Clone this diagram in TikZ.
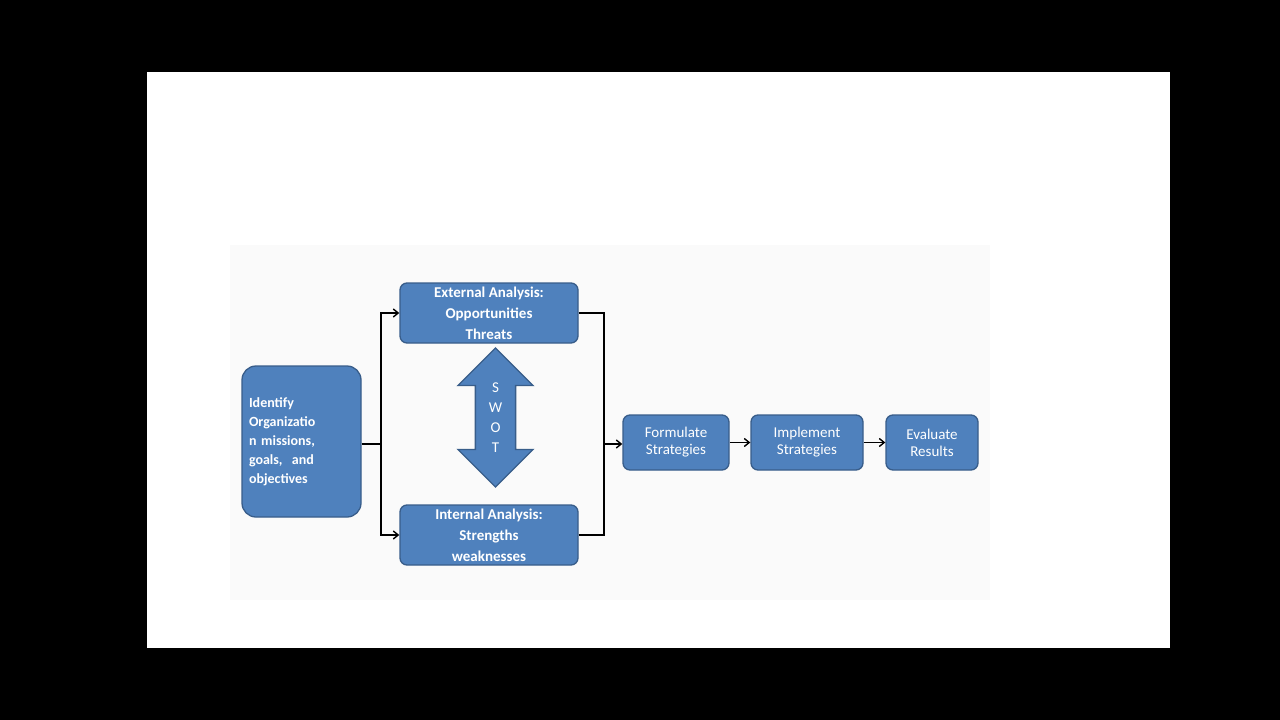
\documentclass[tikz,border=0pt]{standalone}
\usepackage{fontspec}
\setmainfont{Carlito}
\usetikzlibrary{shapes.arrows,arrows.meta}
\definecolor{boxfill}{RGB}{79,129,189}
\definecolor{boxdraw}{RGB}{56,93,138}
\begin{document}
\begin{tikzpicture}[x=1pt,y=-1pt,
  box/.style={draw=boxdraw,line width=1.3pt,fill=boxfill,text=white,rounded corners=7pt,inner sep=2pt,align=center,font=\fontsize{15}{17}\selectfont},
  bbox/.style={box,font=\bfseries\fontsize{15}{21}\selectfont},
  con/.style={line width=1.4pt,black},
  arr/.style={con,-{Straight Barb[length=5pt,width=8pt]}}]
\fill[black] (0,0) rectangle (1280,720);
\fill[white] (147,72) rectangle (1170,648);
\fill[black!2] (230,245) rectangle (990,600);
\node[bbox,rounded corners=14pt,minimum width=119pt,minimum height=151pt,align=left,text width=105pt,font=\bfseries\fontsize{14}{19}\selectfont] (id) at (301.5,441.5) {Identify\\Organizatio\\n missions,\\goals,\ \ and\\objectives};
\node[bbox,minimum width=178pt,minimum height=60pt,font=\bfseries\fontsize{15}{21}\selectfont] (ext) at (489,313) {External Analysis:\\Opportunities\\Threats};
\node[bbox,minimum width=178pt,minimum height=60pt] (int) at (489,535) {Internal Analysis:\\Strengths\\weaknesses};
\node[box,minimum width=106pt,minimum height=55pt] (form) at (676,442.5) {Formulate\\Strategies};
\node[box,minimum width=112pt,minimum height=55pt] (impl) at (807,442.5) {Implement\\Strategies};
\node[box,minimum width=92pt,minimum height=55pt] (eval) at (932,442.5) {Evaluate\\Results};
\node[double arrow,draw=boxdraw,line width=1.3pt,fill=boxfill,shape border rotate=90,minimum height=139pt,minimum width=75pt,double arrow head extend=17pt,inner sep=0pt,text width=38pt,align=center,text=white,font=\fontsize{15}{20}\selectfont] (swot) at (495.5,417.5) {S\\W\\O\\T};
\coordinate (jl) at (381,444);
\coordinate (jr) at (604,444);
\draw[con] (id.east |- jl) -- (jl);
\draw[arr] (jl) |- (ext.west);
\draw[arr] (jl) |- (int.west);
\draw[con] (ext.east) -| (jr);
\draw[con] (int.east) -| (jr);
\draw[arr] (jr) -- (form.west |- jr);
\draw[arr] (form) -- (impl);
\draw[arr] (impl) -- (eval);
\end{tikzpicture}
\end{document}
